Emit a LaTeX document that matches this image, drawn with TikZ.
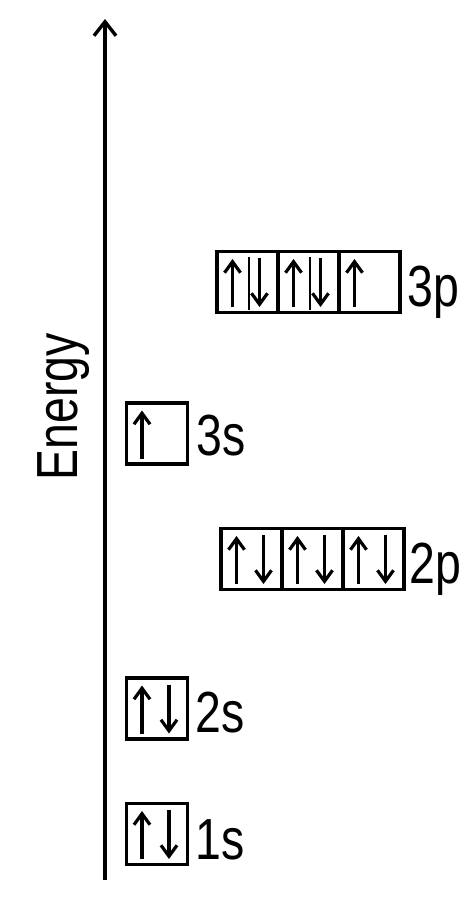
\documentclass[tikz,border=0pt]{standalone}
\usepackage{fontspec}
\newfontfamily\narrowsans[FakeStretch=0.8]{Liberation Sans}
\usetikzlibrary{arrows.meta,positioning}

\tikzstyle{axis} = [line width=3.4pt,-{Straight Barb[length=14pt,width=22pt]}]
\tikzstyle{orb} = [draw,line width=3.6pt,minimum width=61pt,minimum height=61pt,inner sep=0pt,outer sep=0pt]
\tikzstyle{spin} = [line width=3.2pt,-{Straight Barb[length=11pt,width=16pt]}]
\tikzstyle{lbl} = [font={\narrowsans\fontsize{58pt}{58pt}\selectfont},inner sep=0pt]

% spin arrows inside an orbital box
\newcommand{\spinup}[1]{\draw[spin] ([shift={(-15,25)}]#1.center) -- ++(0,-48);}
\newcommand{\spindn}[1]{\draw[spin] ([shift={(12,-24)}]#1.center) -- ++(0,49);}

\begin{document}
\begin{tikzpicture}[x=1pt,y=-1pt]
\useasboundingbox (0,0) rectangle (474,910);

% Axis
\coordinate (bot) at (105,880);
\coordinate (top) at (105,19);
\draw [axis] (bot) -- (top);
\node [lbl,rotate=90,anchor=base] (energy) at (77,407) {Energy};

% 3p
\node [orb] (p3a) at (247.5,282) {};
\node [orb,right=0pt of p3a] (p3b) {};
\node [orb,right=0pt of p3b] (p3c) {};
\node [lbl,anchor=base west] (l3p) at ([xshift=7pt,yshift=-24pt]p3c.east) {3p};
\spinup{p3a} \spindn{p3a}
\spinup{p3b} \spindn{p3b}
\spinup{p3c}
\draw [line width=1.2pt] ([shift={(1.5,-25)}]p3a.center) -- ++(0,53);
\draw [line width=1.2pt] ([shift={(1.5,-25)}]p3b.center) -- ++(0,53);

% 3s
\node [orb] (s3) at (157,433.5) {};
\node [lbl,anchor=base west] (l3s) at ([xshift=9pt,yshift=-22pt]s3.east) {3s};
\spinup{s3}

% 2p
\node [orb] (p2a) at (251.5,559) {};
\node [orb,right=0pt of p2a] (p2b) {};
\node [orb,right=0pt of p2b] (p2c) {};
\node [lbl,anchor=base west] (l2p) at ([xshift=5pt,yshift=-24pt]p2c.east) {2p};
\spinup{p2a} \spindn{p2a}
\spinup{p2b} \spindn{p2b}
\spinup{p2c} \spindn{p2c}

% 2s
\node [orb] (s2) at (157,708.5) {};
\node [lbl,anchor=base west] (l2s) at ([xshift=8pt,yshift=-24pt]s2.east) {2s};
\spinup{s2} \spindn{s2}

% 1s
\node [orb] (s1) at (157,834) {};
\node [lbl,anchor=base west] (l1s) at ([xshift=8pt,yshift=-25pt]s1.east) {1s};
\spinup{s1} \spindn{s1}

\end{tikzpicture}
\end{document}
